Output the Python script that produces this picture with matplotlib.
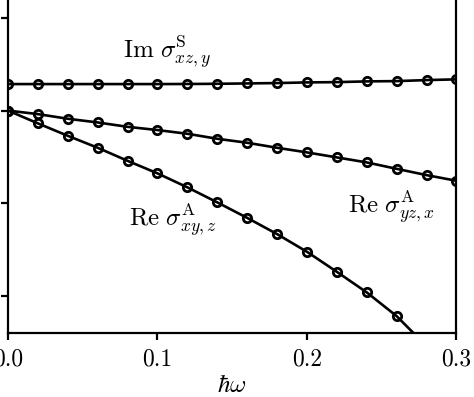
import numpy as np
import matplotlib
matplotlib.use("Agg")
import matplotlib.pyplot as plt

plt.rcParams["mathtext.fontset"] = "cm"
plt.rcParams["font.family"] = "serif"
plt.rcParams["font.serif"] = ["cmr10", "DejaVu Serif"]
plt.rcParams["axes.formatter.use_mathtext"] = True

# hbar*omega sampled every 0.02
hw = [0.00, 0.02, 0.04, 0.06, 0.08, 0.10, 0.12, 0.14, 0.16, 0.18, 0.20, 0.22, 0.24, 0.26, 0.28, 0.30]

im_xzy = [0.286, 0.286, 0.286, 0.286, 0.286, 0.286, 0.287, 0.289, 0.293, 0.297, 0.304, 0.307, 0.315, 0.318, 0.329, 0.337]
re_yzx = [0.0, -0.038, -0.088, -0.128, -0.175, -0.210, -0.250, -0.304, -0.347, -0.401, -0.451, -0.505, -0.559, -0.628, -0.696, -0.757]
re_xyz = [0.0, -0.138, -0.272, -0.401, -0.542, -0.677, -0.828, -0.990, -1.157, -1.332, -1.523, -1.739, -1.961, -2.217, -2.541, -2.87]

xticks = [0.0, 0.1, 0.2, 0.3]
xticklabels = ["0.0", "0.1", "0.2", "0.3"]
yticks = [1, 0, -1, -2]

fig = plt.figure(figsize=(4.74, 3.97), dpi=100)
ax = fig.add_axes([0.0169, 0.161, 0.946, 0.864])

style = dict(color="black", lw=1.9, marker="o", ms=6, mfc="none", mew=2.0)
for y in (im_xzy, re_yzx, re_xyz):
    ax.plot(hw, y, **style)

ax.set_xlim(0, 0.3)
ax.set_ylim(-2.40, 1.3)
ax.set_xticks(xticks)
ax.set_xticklabels(xticklabels)
ax.set_yticks(yticks)
ax.set_yticklabels([])
ax.tick_params(axis="both", direction="out", length=5, width=1.6, labelsize=17, pad=6)
for s in ax.spines.values():
    s.set_linewidth(1.6)

ax.set_xlabel(r"$\hbar\omega$", fontsize=18, labelpad=3)

ax.text(0.1065, 0.63, r"$\mathrm{Im}\ \sigma^{\mathrm{S}}_{xz,y}$", fontsize=18, ha="center", va="center")
ax.text(0.2565, -1.04, r"$\mathrm{Re}\ \sigma^{\mathrm{A}}_{yz,x}$", fontsize=18, ha="center", va="center")
ax.text(0.11, -1.19, r"$\mathrm{Re}\ \sigma^{\mathrm{A}}_{xy,z}$", fontsize=18, ha="center", va="center")

fig.savefig("out.png", dpi=100)
